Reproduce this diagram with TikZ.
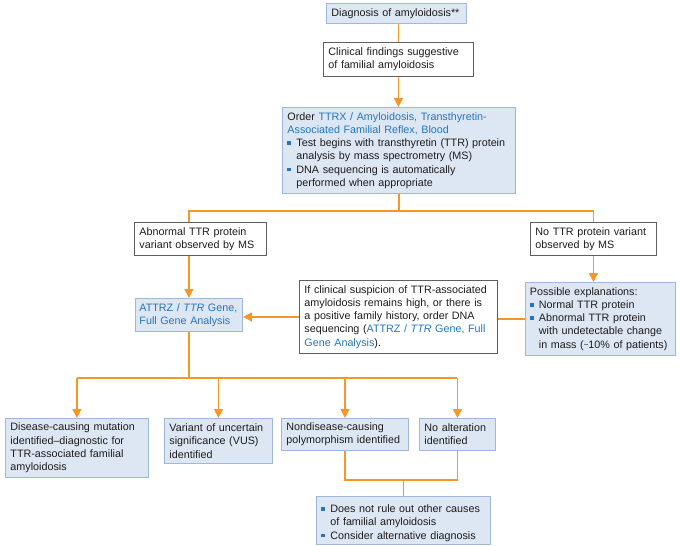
\documentclass[tikz,border=0pt]{standalone}
\usepackage{fontspec}
\setmainfont{Liberation Sans}
\usepackage{tikz}
\usetikzlibrary{positioning}
\usetikzlibrary{arrows.meta}

\definecolor{ttrorange}{RGB}{245,150,40}
\definecolor{ttrfill}{RGB}{221,230,243}
\definecolor{ttredge}{RGB}{160,184,216}
\definecolor{ttrblue}{RGB}{36,118,188}
\definecolor{ttrgray}{RGB}{95,95,95}
\definecolor{ttrtext}{RGB}{30,28,28}

\newcommand{\bitem}[1]{\par\leftskip=9bp\relax\noindent\llap{\makebox[9bp][l]{\textcolor{ttrblue}{\rule[1.8bp]{3.6bp}{3.6bp}}}}#1\par}
\newcommand{\lnk}[1]{\textcolor{ttrblue}{#1}}
\newcommand{\brk}{\hfil\break}

\tikzset{
	box/.style={anchor=north west, inner xsep=5bp, inner ysep=3bp, align=left, text=ttrtext},
	bluebox/.style={box, draw=ttredge, fill=ttrfill, line width=0.9bp},
	whitebox/.style={box, draw=ttrgray, fill=white, line width=0.9bp},
	link/.style={draw=ttrorange, line width=1.3bp},
	arr/.style={link, -{Triangle[width=9bp,length=9bp]}}
}

\begin{document}
\begin{tikzpicture}[x=1bp, y=-1bp, font=\fontsize{10.8}{13.3}\selectfont]

	\useasboundingbox (0,0) rectangle (680,546);

	% top of the chart
	\node [bluebox, text width=130bp, minimum height=20bp] (diag) at (326,3) {Diagnosis of amyloidosis**};
	\node [whitebox, text width=140bp, minimum height=34bp] (clin) at (323,42) {Clinical findings suggestive of familial amyloidosis};
	\node [bluebox, text width=223bp, minimum height=86bp] (order) at (282,107)
		{Order \lnk{TTRX / Amyloidosis, Transthyretin-Associated Familial Reflex, Blood}
		\bitem{Test begins with transthyretin (TTR) protein analysis by mass spectrometry (MS)}
		\bitem{DNA sequencing is automatically\brk performed when appropriate}};

	% MS result
	\node [whitebox, text width=122bp, minimum height=33bp] (abn) at (134,222) {Abnormal TTR protein variant observed by MS};
	\node [whitebox, text width=116bp, minimum height=33bp] (nottr) at (530,222) {No TTR protein variant observed by MS};
	\node [bluebox, inner xsep=4bp, text width=99bp, minimum height=33bp] (attrz) at (135,298) {\lnk{ATTRZ / \textit{TTR} Gene,\brk Full Gene Analysis}};
	\node [whitebox, text width=188bp, minimum height=73bp] (susp) at (299,280)
		{If clinical suspicion of TTR-associated amyloidosis remains high, or there is a positive family history, order DNA sequencing (\lnk{ATTRZ / \textit{TTR} Gene, Full Gene Analysis}).};
	\node [bluebox, inner xsep=4.5bp, text width=141bp, minimum height=73bp] (expl) at (525,282)
		{Possible explanations:
		\bitem{Normal TTR protein}
		\bitem{Abnormal TTR protein\brk with undetectable change\brk in mass ({\raisebox{0.3bp}{\footnotesize\textasciitilde}}10\% of patients)}};

	% sequencing result
	\node [bluebox, text width=133bp, minimum height=59bp] (dis) at (5,418) {Disease-causing mutation identified\textendash diagnostic for TTR-associated familial amyloidosis};
	\node [bluebox, text width=98bp, minimum height=45bp] (vus) at (164,418) {Variant of uncertain significance (VUS) identified};
	\node [bluebox, text width=117bp, minimum height=32bp] (nond) at (281,418) {Nondisease-causing polymorphism identified};
	\node [bluebox, text width=66bp, minimum height=32bp] (noalt) at (419,418) {No alteration identified};
	\node [bluebox, text width=164bp, minimum height=47bp] (rule) at (316,496)
		{\bitem{Does not rule out other causes of familial amyloidosis}
		\bitem{Consider alternative diagnosis}};

	% connectors
	\draw [link] (diag.south -| clin.north) -- (clin.north);
	\draw [arr] (clin.south) -- (clin.south |- order.north);
	\draw [link] (order.south) -- ++(0,17) coordinate (split) -| (attrz.north |- abn.north);
	\draw [link] (split) -| (nottr.north);
	\draw [arr] (attrz.north |- abn.south) -- (attrz.north);
	\draw [arr] (nottr.south) -- (nottr.south |- expl.north);
	\draw [link] (expl.west) -- (expl.west -| susp.east);
	\draw [arr] (susp.west) -- (susp.west -| attrz.east);

	\draw [link] (attrz.south) -- ++(0,46) coordinate (split2);
	\draw [link] (dis.north |- split2) -- (noalt.north |- split2);
	\foreach \n in {dis,vus,nond,noalt}
		\draw [arr] (\n.north |- split2) -- (\n.north);

	\draw [link] (nond.south) -- ++(0,29) coordinate (join) -| (noalt.south);
	\draw [link] (join -| rule.north) -- (rule.north);

\end{tikzpicture}
\end{document}
